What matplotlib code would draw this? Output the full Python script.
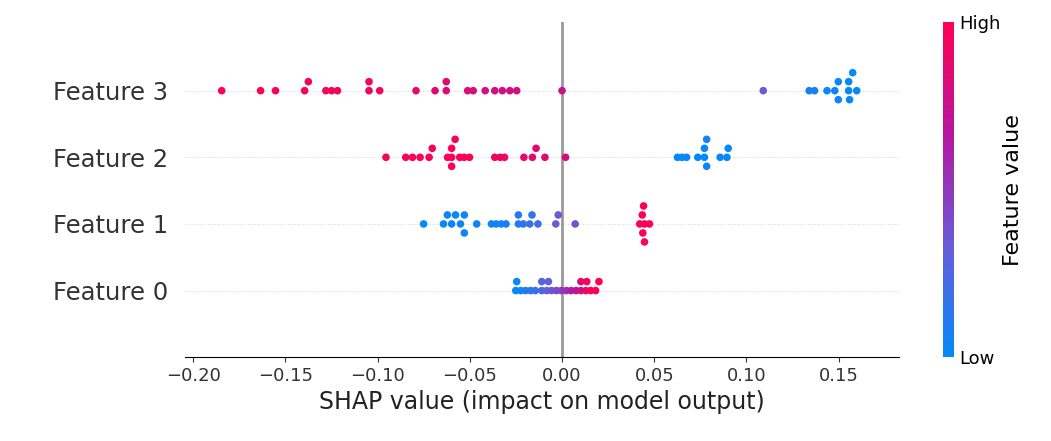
import numpy as np
import matplotlib
matplotlib.use("Agg")
import matplotlib.pyplot as plt
from matplotlib.colors import LinearSegmentedColormap

features = ["Feature 0", "Feature 1", "Feature 2", "Feature 3"]

f3_shap = [-0.1846,-0.1635,-0.1554,-0.1396,-0.1376,-0.1281,-0.1250,-0.1218,-0.1047,-0.1047,-0.0989,
           -0.0792,-0.0689,-0.0628,-0.0628,-0.0512,-0.0482,-0.0417,-0.0365,-0.0324,-0.0283,-0.0246,0.0,
           0.1091,0.1340,0.1369,0.1437,0.1479,0.1498,0.1498,0.1554,0.1554,0.1559,0.1576,0.1598]
f3_val = [1.0,1.0,0.98,0.97,0.97,0.96,0.96,0.95,0.94,0.94,0.93,
          0.88,0.86,0.85,0.85,0.83,0.82,0.80,0.79,0.79,0.78,0.78,0.76,
          0.35,0.08,0.1,0.05,0.05,0.03,0.03,0.02,0.02,0.02,0.01,0.01]

f2_shap = [-0.0955,-0.0848,-0.0811,-0.0770,-0.0721,-0.0704,-0.0621,-0.0599,-0.0599,-0.0599,-0.0580,
           -0.0555,-0.0531,-0.0502,-0.0365,-0.0336,-0.0312,-0.0207,-0.0161,-0.0141,-0.0093,0.0019,
           0.0626,0.0650,0.0675,0.0736,0.0772,0.0772,0.0784,0.0784,0.0857,0.0894,0.0901]
f2_val = [0.97,0.98,0.97,0.97,0.99,0.98,1.0,0.99,0.98,0.98,0.99,
          0.98,0.97,0.97,0.92,0.92,0.91,0.88,0.87,0.86,0.85,0.82,
          0.02,0.03,0.03,0.03,0.02,0.04,0.05,0.06,0.03,0.02,0.02]

f1_shap = [-0.0751,-0.0643,-0.0622,-0.0599,-0.0578,-0.0551,-0.0530,-0.0530,-0.0463,-0.0383,-0.0357,
           -0.0330,-0.0304,-0.0237,-0.0237,-0.0210,-0.0175,-0.0163,-0.0131,-0.0034,-0.0021,0.0071,
           0.0421,0.0435,0.0438,0.0442,0.0447,0.0447,0.0474]
f1_val = [0.02,0.03,0.03,0.04,0.03,0.05,0.06,0.05,0.05,0.04,0.06,
          0.06,0.07,0.10,0.12,0.15,0.18,0.16,0.2,0.33,0.35,0.38,
          0.97,0.98,0.99,1.0,0.98,0.97,0.99]

f0_shap = [-0.0251,-0.0246,-0.0224,-0.0198,-0.0171,-0.0145,-0.0110,-0.0110,-0.0083,-0.0074,-0.0057,
           -0.0030,-0.0004,0.0023,0.0049,0.0076,0.0102,0.0102,0.0129,0.0134,0.0155,0.0182,0.0200]
f0_val = [0.02,0.03,0.06,0.09,0.13,0.17,0.24,0.26,0.30,0.32,0.36,
          0.42,0.47,0.55,0.62,0.70,0.80,0.85,0.9,0.95,0.97,0.99,1.0]

shap_vals = [f0_shap, f1_shap, f2_shap, f3_shap]
feat_vals = [f0_val, f1_val, f2_val, f3_val]

cmap = LinearSegmentedColormap.from_list("rb", ["#008bfb", "#6a5bd8", "#b5179e", "#ff0052"])

def swarm(xs, dx=0.0022, dy=0.135):
    order = np.argsort(xs)
    placed = {}
    offs = np.zeros(len(xs))
    for i in order:
        for lvl in [0, 1, -1, 2, -2, 3, -3]:
            if all(abs(xs[i] - x) >= dx for x in placed.get(lvl, [])):
                placed.setdefault(lvl, []).append(xs[i])
                offs[i] = lvl * dy
                break
    return offs

fig = plt.figure(figsize=(10.51, 4.41), dpi=100)
ax = fig.add_axes([0.176, 0.19, 0.679, 0.76])
ax.axvline(0, color="#999999", lw=2, zorder=1)
for r, (sv, fv) in enumerate(zip(shap_vals, feat_vals)):
    sv = np.array(sv)
    ax.axhline(r, color="#cccccc", lw=0.6, dashes=(1, 2), zorder=0)
    ax.scatter(sv, r + swarm(sv), c=cmap(np.array(fv)), s=30, lw=0, zorder=3)
ax.set_ylim(-1, 4.03)
ax.set_xlim(-0.2045, 0.1825)
ax.set_yticks(range(4))
ax.set_yticklabels(features, fontsize=17.5, color="#333333")
ax.tick_params(axis="y", length=0, pad=12)
ax.set_xticks([-0.2, -0.15, -0.1, -0.05, 0, 0.05, 0.1, 0.15])
ax.set_xticklabels(["−0.20", "−0.15", "−0.10", "−0.05", "0.00", "0.05", "0.10", "0.15"])
ax.tick_params(axis="x", labelsize=13, colors="#333333", labelcolor="#333333")
for s in ["left", "top", "right"]:
    ax.spines[s].set_visible(False)
ax.set_xlabel("SHAP value (impact on model output)", fontsize=17, color="#222222")

cax = fig.add_axes([0.897, 0.19, 0.011, 0.76])
sm = matplotlib.cm.ScalarMappable(cmap=cmap)
cb = fig.colorbar(sm, cax=cax, ticks=[0, 1])
cb.set_ticklabels(["Low", "High"])
cb.ax.tick_params(labelsize=13, length=0)
cb.outline.set_visible(False)
cb.set_label("Feature value", fontsize=16, labelpad=2)
fig.savefig("out.png", dpi=100)
